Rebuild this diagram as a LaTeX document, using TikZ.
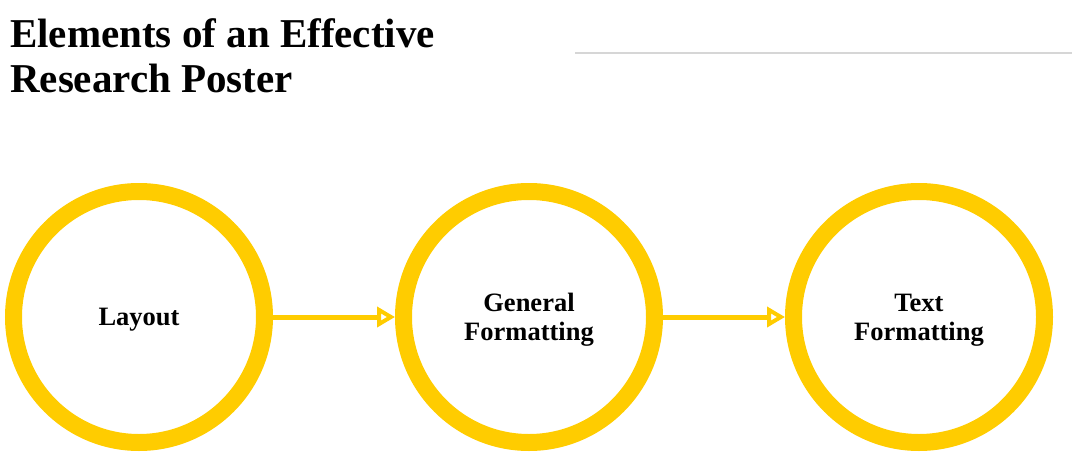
\documentclass[tikz,border=0pt]{standalone}
\usepackage{fontspec}
\setmainfont{Liberation Serif}
\usetikzlibrary{arrows.meta}
\definecolor{gold}{HTML}{FFCC00}
\definecolor{rulegray}{HTML}{D6D6D6}
\begin{document}
\begin{tikzpicture}[x=1pt,y=-1pt,
  ring/.style={circle,draw=gold,line width=17pt,minimum size=251pt,inner sep=0pt},
  lbl/.style={font=\fontsize{26.5}{29}\selectfont\bfseries,align=center},
  conn/.style={draw=gold,line width=5pt,-{Triangle[open,length=18pt,width=20pt,line width=4pt]}},
  ttl/.style={font=\fontsize{41}{45}\selectfont\bfseries,anchor=base west,inner sep=0pt}]
\useasboundingbox (0,0) rectangle (1072,474);
\draw[rulegray,line width=2pt] (575,52.5) -- (1072,52.5);
\node[ttl] (t1) at (10,47) {Elements of an Effective};
\node[ttl] (t2) at (10,92) {Research Poster};
\node[ring] (c1) at (139,317) {};
\node[ring] (c2) at (529,317) {};
\node[ring] (c3) at (919,317) {};
\node[lbl] (l1) at (139,320) {Layout};
\node[lbl] (l2) at (529,320) {General\\Formatting};
\node[lbl] (l3) at (919,320) {Text\\Formatting};
\draw[conn] (c1.east) -- (c2.west);
\draw[conn] (c2.east) -- (c3.west);
\end{tikzpicture}
\end{document}
